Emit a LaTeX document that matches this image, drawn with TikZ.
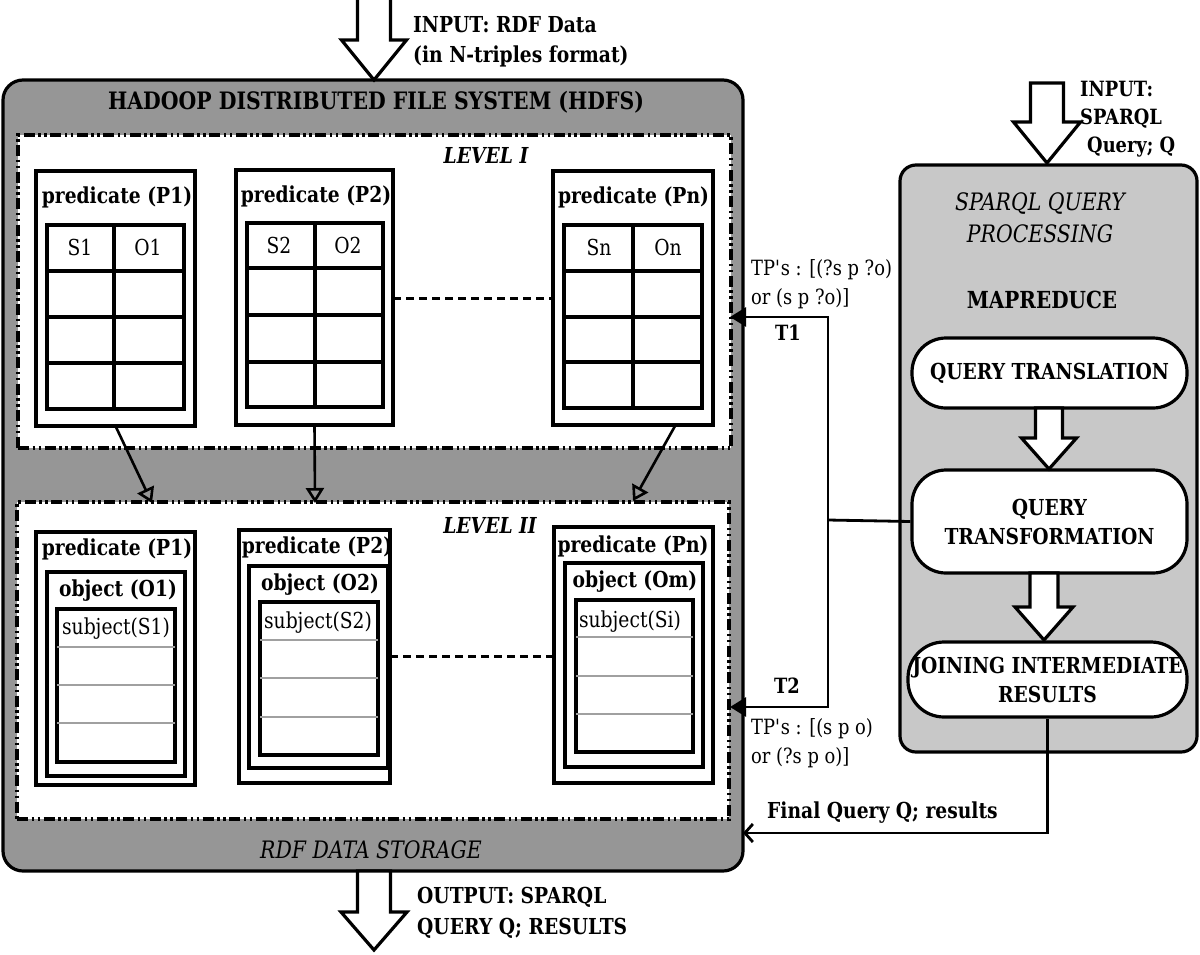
\documentclass[tikz,border=0pt]{standalone}
\usepackage{fontspec}
\setmainfont{DejaVu Serif}[FakeStretch=0.85]
\usetikzlibrary{arrows.meta}
\definecolor{hdfsgray}{HTML}{969696}
\definecolor{sparqlgray}{HTML}{C8C8C8}
\definecolor{rowgray}{HTML}{A0A0A0}
% rectangle node from corner coordinates: style, name, x1, y1, x2, y2
\newcommand\rectnode[6]{\node[#1, minimum width={(#5)-(#3)}, minimum height={(#6)-(#4)}] (#2) at ({((#3)+(#5))/2},{((#4)+(#6))/2}) {};}
% block arrow: cx, ytop, ybase, ytip, shaft half width, head half width
\newcommand\blockarr[6]{\draw[blockarrow] ({#1-#5},#2) -- ({#1-#5},#3) -- ({#1-#6},#3) -- (#1,#4) -- ({#1+#6},#3) -- ({#1+#5},#3) -- ({#1+#5},#2) -- cycle;}
\begin{document}
\begin{tikzpicture}[x=1pt,y=-1pt,
  frame/.style={draw, line width=3.2pt, inner sep=0pt, outer sep=0pt},
  box/.style={frame, fill=white},
  levelbox/.style={draw, fill=white, line width=3.2pt, dash pattern=on 11pt off 3.5pt on 2.5pt off 3.5pt on 2.5pt off 3.5pt, inner sep=0pt, outer sep=0pt},
  gridline/.style={line width=3.4pt},
  rowline/.style={draw=rowgray, line width=2.8pt},
  dotline/.style={line width=3pt, dash pattern=on 8pt off 5pt},
  conn/.style={line width=2.8pt},
  flow/.style={line width=2.6pt, -{Triangle[open, length=15pt, width=18pt, line width=2.6pt]}},
  tipin/.style={conn, -{Triangle[length=16pt, width=19pt]}},
  tipfinal/.style={conn, -{Straight Barb[length=8pt, width=18pt, line width=2.8pt]}},
  blockarrow/.style={draw, fill=white, line width=3.2pt, line join=miter},
  stadium/.style={draw, fill=white, line width=3.2pt, rounded corners=34pt, inner sep=0pt, align=center, font=\fontsize{22}{29}\selectfont\bfseries},
  bt/.style={inner sep=0pt, anchor=base, font=\fontsize{22}{29}\selectfont\bfseries},
  rt/.style={inner sep=0pt, anchor=base, font=\fontsize{22}{29}\selectfont},
  it/.style={inner sep=0pt, anchor=base, font=\fontsize{24}{32}\selectfont\itshape},
  bit/.style={inner sep=0pt, anchor=base, font=\fontsize{22}{29}\selectfont\bfseries\itshape},
  sidebt/.style={inner sep=0pt, anchor=base west, align=left, font=\fontsize{22}{30}\selectfont\bfseries},
  sidert/.style={inner sep=0pt, anchor=base west, align=left, font=\fontsize{21}{29}\selectfont},
]
\useasboundingbox (0,0) rectangle (1200,954);

% ---------- HDFS ----------
\rectnode{frame, fill=hdfsgray, rounded corners=20pt}{hdfs}{3}{80}{743}{871}
\node[bt, font=\fontsize{24}{29}\selectfont\bfseries] (title) at (376,109) {HADOOP DISTRIBUTED FILE SYSTEM (HDFS)};
\node[it] (storage) at (371,858) {RDF DATA STORAGE};

% ---------- Level I ----------
\rectnode{levelbox}{lvl1}{18}{135}{731}{448}
\node[bit] (lvl1t) at (486,163) {LEVEL I};

\rectnode{box}{p1a}{36}{171}{195}{426}
\rectnode{box}{t1a}{47}{225}{184}{409}
\draw[gridline] (114,225) -- (114,409) (47,271) -- (184,271) (47,317) -- (184,317) (47,363) -- (184,363);
\node[bt] (p1at) at (117,203) {predicate (P1)};
\node[rt] (s1) at (80,255) {S1};
\node[rt] (o1) at (148,255) {O1};

\rectnode{box}{p2a}{236}{170}{393}{425}
\rectnode{box}{t2a}{247}{223}{383}{407}
\draw[gridline] (315,223) -- (315,407) (247,268) -- (383,268) (247,315) -- (383,315) (247,362) -- (383,362);
\node[bt] (p2at) at (316,202) {predicate (P2)};
\node[rt] (s2) at (279,253) {S2};
\node[rt] (o2) at (348,253) {O2};

\rectnode{box}{pna}{553}{171}{713}{425}
\rectnode{box}{tna}{564}{225}{702}{408}
\draw[gridline] (633,225) -- (633,408) (564,271) -- (702,271) (564,317) -- (702,317) (564,362) -- (702,362);
\node[bt] (pnat) at (633.5,203) {predicate (Pn)};
\node[rt] (sn) at (599,255) {Sn};
\node[rt] (on) at (668,255) {On};

\draw[dotline] (p2a.east |- 0,298) -- (pna.west |- 0,298);

% ---------- Level II ----------
\rectnode{levelbox}{lvl2}{17}{502}{729}{819}
\node[bit] (lvl2t) at (490,533) {LEVEL II};

\rectnode{box}{p1b}{36}{532}{195}{785}
\rectnode{box}{o1b}{47}{572}{185}{776}
\rectnode{box}{s1b}{57}{609}{175}{762}
\draw[rowline] (57,647) -- (175,647) (57,685) -- (175,685) (57,723) -- (175,723);
\node[bt] (p1bt) at (117,555) {predicate (P1)};
\node[bt] (o1bt) at (118,596) {object (O1)};
\node[rt] (s1bt) at (116,634) {subject(S1)};

\rectnode{box}{p2b}{239}{530}{390}{783}
\rectnode{box}{o2b}{249}{566}{388}{768}
\rectnode{box}{s2b}{260}{602}{378}{755}
\draw[rowline] (260,640) -- (378,640) (260,678) -- (378,678) (260,717) -- (378,717);
\node[bt] (p2bt) at (317,553) {predicate (P2)};
\node[bt] (o2bt) at (320,590) {object (O2)};
\node[rt] (s2bt) at (318,628) {subject(S2)};

\rectnode{box}{pnb}{554}{527}{713}{783}
\rectnode{box}{onb}{565}{563}{703}{767}
\rectnode{box}{snb}{576}{600}{693}{752}
\draw[rowline] (576,637) -- (693,637) (576,676) -- (693,676) (576,714) -- (693,714);
\node[bt] (pnbt) at (633,552) {predicate (Pn)};
\node[bt] (onbt) at (635,587) {object (Om)};
\node[rt] (snbt) at (630,627) {subject(Si)};

\draw[dotline] (p2b.east |- 0,656) -- (pnb.west |- 0,656);

% ---------- Level I -> Level II ----------
\coordinate (f1) at (152,503);
\coordinate (f2) at (315,503);
\coordinate (fns) at (675,426);
\coordinate (fn) at (633,501);
\draw[flow] (p1a.south) -- (f1);
\draw[flow] (p2a.south) -- (f2);
\draw[flow] (fns) -- (fn);

% ---------- input / output arrows ----------
\blockarr{374}{-6}{40}{80}{16.5}{32.5}
\node[sidebt] (inrdf) at (413,62) {INPUT: RDF Data\\(in N-triples format)};
\blockarr{374}{871}{912}{950}{16.5}{33}
\node[sidebt, font=\fontsize{22}{31}\selectfont\bfseries] (outq) at (417,934) {OUTPUT: SPARQL\\QUERY Q; RESULTS};

% ---------- SPARQL query processing ----------
\rectnode{frame, fill=sparqlgray, rounded corners=16pt}{sq}{900}{165}{1197}{752}
\blockarr{1047}{83}{122}{163}{16.5}{33.5}
\node[sidebt, font=\fontsize{21}{28}\selectfont\bfseries] (insq) at (1080,152) {INPUT:\\SPARQL\\\hspace*{7pt}Query; Q};
\node[it, align=center] (sqt) at (1040,242) {SPARQL QUERY\\PROCESSING};
\node[bt, font=\fontsize{23.5}{29}\selectfont\bfseries] (mr) at (1042,308) {MAPREDUCE};

\node[stadium, minimum width=275, minimum height=70] (qt) at (1049.5,373) {QUERY TRANSLATION};
\node[stadium, minimum width=275, minimum height=103] (qtr) at (1049.5,521.5) {QUERY\\TRANSFORMATION};
\node[stadium, minimum width=279, minimum height=75, rounded corners=36pt] (jn) at (1047.5,679.5) {JOINING INTERMEDIATE\\RESULTS};
\blockarr{1049}{408}{438}{469}{13.5}{27.5}
\blockarr{1044}{573}{607}{640}{14}{29}

% ---------- connectors to HDFS ----------
\coordinate (jc) at (828,520);
\coordinate (t1e) at (730,317);
\coordinate (t2e) at (730,707);
\coordinate (fe) at (743,833);
\draw[conn] (qtr.west) -- (jc);
\draw[tipin] (jc) |- (t1e);
\draw[tipin] (jc) |- (t2e);
\draw[tipfinal] (jn.south) |- (fe);

\node[sidert] (tp1) at (751,304) {TP\textquotesingle s : [(?s p ?o)\\or (s p ?o)]};
\node[bt, font=\fontsize{21}{29}\selectfont\bfseries] (t1) at (788,340) {T1};
\node[bt, font=\fontsize{21}{29}\selectfont\bfseries] (t2) at (787,693) {T2};
\node[sidert] (tp2) at (751,763) {TP\textquotesingle s : [(s p o)\\or (?s p o)]};
\node[sidebt] (fq) at (767,818) {Final Query Q; results};
\end{tikzpicture}
\end{document}
